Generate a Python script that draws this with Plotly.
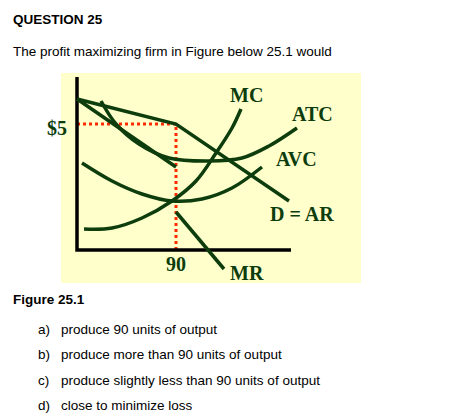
import plotly.graph_objects as go

# curve points (screen px, y down)
ar_x = [78, 177, 290]
ar_y = [98, 123, 200]
mr1_x = [78, 177]
mr1_y = [98, 166]
mr2_x = [177, 225]
mr2_y = [211, 268]
atc_x = [102, 117, 140, 170, 210, 243, 270, 298]
atc_y = [100, 123, 143, 157, 160, 157, 145, 127]
avc_x = [83, 113, 143, 173, 203, 233, 263]
avc_y = [162, 180, 193, 200, 198, 187, 166]
mc_x = [85, 113, 143, 173, 197, 217, 233, 242]
mc_y = [228, 227, 217, 200, 180, 152, 127, 108]

labels = ["MC", "ATC", "AVC", "D = AR", "MR", "90", "$5"]
label_x = [247, 313, 297, 303, 248, 177, 58]
label_y = [94, 113, 158, 213, 272, 263, 127]

options = ["produce 90 units of output",
           "produce more than 90 units of output",
           "produce slightly less than 90 units of output",
           "close to minimize loss"]

green = "#0d3d0d"
fig = go.Figure()
fig.add_shape(type="rect", x0=62, x1=362, y0=72, y1=282, fillcolor="#ffffcc", line_width=0, layer="below")

# red dotted guides
fig.add_trace(go.Scatter(x=[78, 177, 177], y=[123, 123, 249], mode="lines",
                         line=dict(color="#ff2a00", width=3, dash="dot")))
# axes
fig.add_trace(go.Scatter(x=[78, 78, 292], y=[76, 249, 249], mode="lines",
                         line=dict(color="black", width=3.5)))

for xs, ys, sh in [(ar_x, ar_y, "linear"), (mr1_x, mr1_y, "linear"), (mr2_x, mr2_y, "linear"),
                   (atc_x, atc_y, "spline"), (avc_x, avc_y, "spline"), (mc_x, mc_y, "spline")]:
    fig.add_trace(go.Scatter(x=xs, y=ys, mode="lines",
                             line=dict(color=green, width=3.5, shape=sh)))

for t, x, y in zip(labels, label_x, label_y):
    fig.add_annotation(x=x, y=y, text="<b>%s</b>" % t.replace("$", "&#36;"), showarrow=False,
                       font=dict(family="Liberation Serif", size=20, color=green))

fig.add_annotation(x=12, y=18, text="<b>QUESTION 25</b>", showarrow=False, xanchor="left",
                   font=dict(family="Liberation Sans", size=13.5, color="black"))
fig.add_annotation(x=12, y=50, text="The profit maximizing firm in Figure below 25.1 would", showarrow=False,
                   xanchor="left", font=dict(family="Liberation Sans", size=13.5, color="black"))
fig.add_annotation(x=12, y=298, text="<b>Figure 25.1</b>", showarrow=False, xanchor="left",
                   font=dict(family="Liberation Sans", size=13.5, color="black"))
for i, opt in enumerate(options):
    y = 328 + i * 25.5
    fig.add_annotation(x=37, y=y, text="abcd"[i] + ")", showarrow=False, xanchor="left",
                       font=dict(family="Liberation Sans", size=13.5, color="black"))
    fig.add_annotation(x=60, y=y, text=opt, showarrow=False, xanchor="left",
                       font=dict(family="Liberation Sans", size=13.5, color="black"))

# page body margin shifts the figure ~8px, so offset the ranges
fig.update_layout(width=467, height=419, margin=dict(l=0, r=0, t=0, b=0),
                  paper_bgcolor="white", plot_bgcolor="white", showlegend=False,
                  xaxis=dict(range=[9, 476], visible=False),
                  yaxis=dict(range=[426, 7], visible=False))
fig.write_html("out.html")
